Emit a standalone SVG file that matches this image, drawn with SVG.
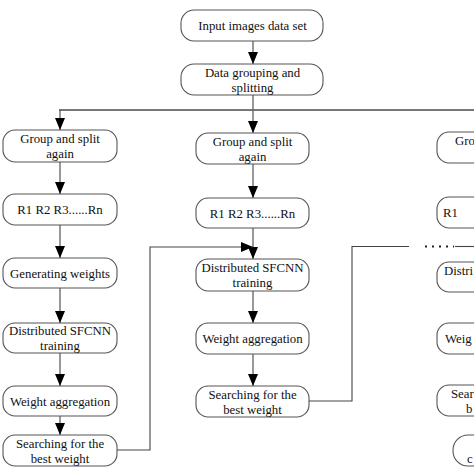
<svg xmlns="http://www.w3.org/2000/svg" width="474" height="474" viewBox="0 0 474 474">
<style>
.box{fill:#fff;stroke:#555;stroke-width:1.1}
.t{font-family:"Liberation Serif","Times New Roman",serif;font-size:12.8px;fill:#111;text-anchor:middle}
.s{text-anchor:start}
.c{fill:none;stroke:#444;stroke-width:1.1}
.ca{fill:none;stroke:#444;stroke-width:1.1;marker-end:url(#ah)}
.split{fill:none;stroke:#777;stroke-width:2}
</style>
<defs>
<marker id="ah" viewBox="0 0 12 10" refX="12" refY="5" markerWidth="12" markerHeight="10" markerUnits="userSpaceOnUse" orient="auto">
<path d="M0,0 L12,5 L0,10 z" fill="#000"/>
</marker>
</defs>
<rect width="474" height="474" fill="#fff"/>
<g id="connectors">
<line class="ca" x1="253" y1="41" x2="253" y2="64"/>
<line class="c" x1="253" y1="95" x2="253" y2="110"/>
<line class="split" x1="59" y1="110" x2="474" y2="110"/>
<line class="ca" x1="60" y1="110" x2="60" y2="130"/>
<line class="ca" x1="253" y1="110" x2="253" y2="133"/>
<line class="ca" x1="60" y1="162" x2="60" y2="194"/>
<line class="ca" x1="60" y1="225" x2="60" y2="258"/>
<line class="ca" x1="60" y1="288" x2="60" y2="323"/>
<line class="ca" x1="60" y1="353" x2="60" y2="386"/>
<line class="ca" x1="60" y1="416" x2="60" y2="435"/>
<line class="ca" x1="253" y1="164" x2="253" y2="198"/>
<line class="ca" x1="253" y1="228" x2="253" y2="259"/>
<line class="ca" x1="253" y1="291" x2="253" y2="323"/>
<line class="ca" x1="253" y1="354" x2="253" y2="386"/>
<polyline class="ca" points="117,450 150,450 150,247 253,247"/>
<polyline class="c" points="309,401 352,401 352,246.5 409,246.5"/>
<line x1="425" y1="246.5" x2="454" y2="246.5" stroke="#222" stroke-width="2" stroke-dasharray="2,5"/>
<line class="c" x1="455" y1="246.5" x2="474" y2="246.5"/>
</g>
<g id="n-input"><rect class="box" x="181" y="10" width="142" height="31" rx="13"/><text class="t" x="252.5" y="30">Input images data set</text></g>
<g id="n-grouping"><rect class="box" x="181" y="64" width="142" height="31" rx="13"/><text class="t" x="252.5" y="76.5">Data grouping and</text><text class="t" x="252.5" y="91.5">splitting</text></g>

<g id="l-group"><rect class="box" x="3" y="130" width="114" height="32" rx="12"/><text class="t" x="60" y="143">Group and split</text><text class="t" x="60" y="158">again</text></g>
<g id="l-r"><rect class="box" x="3" y="194" width="114" height="31" rx="12"/><text class="t" x="60" y="214">R1 R2 R3......Rn</text></g>
<g id="l-gen"><rect class="box" x="3" y="258" width="114" height="30" rx="12"/><text class="t" x="60" y="277.5">Generating weights</text></g>
<g id="l-dist"><rect class="box" x="3" y="323" width="114" height="30" rx="12"/><text class="t" x="60" y="335">Distributed SFCNN</text><text class="t" x="60" y="350">training</text></g>
<g id="l-agg"><rect class="box" x="3" y="386" width="114" height="30" rx="12"/><text class="t" x="60" y="405.5">Weight aggregation</text></g>
<g id="l-search"><rect class="box" x="3" y="435" width="114" height="31" rx="12"/><text class="t" x="60" y="447.5">Searching for the</text><text class="t" x="60" y="462.5">best weight</text></g>

<g id="m-group"><rect class="box" x="196" y="133" width="113" height="31" rx="12"/><text class="t" x="252.5" y="145.5">Group and split</text><text class="t" x="252.5" y="160.5">again</text></g>
<g id="m-r"><rect class="box" x="196" y="198" width="113" height="30" rx="12"/><text class="t" x="252.5" y="217.5">R1 R2 R3......Rn</text></g>
<g id="m-dist"><rect class="box" x="196" y="259" width="113" height="32" rx="12"/><text class="t" x="252.5" y="272">Distributed SFCNN</text><text class="t" x="252.5" y="287">training</text></g>
<g id="m-agg"><rect class="box" x="196" y="323" width="113" height="31" rx="12"/><text class="t" x="252.5" y="343">Weight aggregation</text></g>
<g id="m-search"><rect class="box" x="196" y="386" width="113" height="31" rx="12"/><text class="t" x="252.5" y="398.5">Searching for the</text><text class="t" x="252.5" y="413.5">best weight</text></g>

<g id="r-group"><rect class="box" x="437" y="132" width="114" height="31" rx="12"/><text class="t s" x="455" y="145">Gro</text></g>
<g id="r-r"><rect class="box" x="437" y="197" width="114" height="31" rx="12"/><text class="t s" x="443" y="217">R1</text></g>
<g id="r-dist"><rect class="box" x="437" y="262" width="114" height="30" rx="12"/><text class="t s" x="444" y="274.5">Distri</text></g>
<g id="r-agg"><rect class="box" x="437" y="323" width="114" height="31" rx="12"/><text class="t s" x="445" y="343">Weig</text></g>
<g id="r-search"><rect class="box" x="437" y="385" width="114" height="31" rx="12"/><text class="t s" x="451" y="397.5">Sear</text><text class="t s" x="466" y="412.5">b</text></g>
<g id="r-end"><rect class="box" x="453" y="435" width="80" height="31" rx="15"/><text class="t s" x="467" y="463">c</text></g>
</svg>
